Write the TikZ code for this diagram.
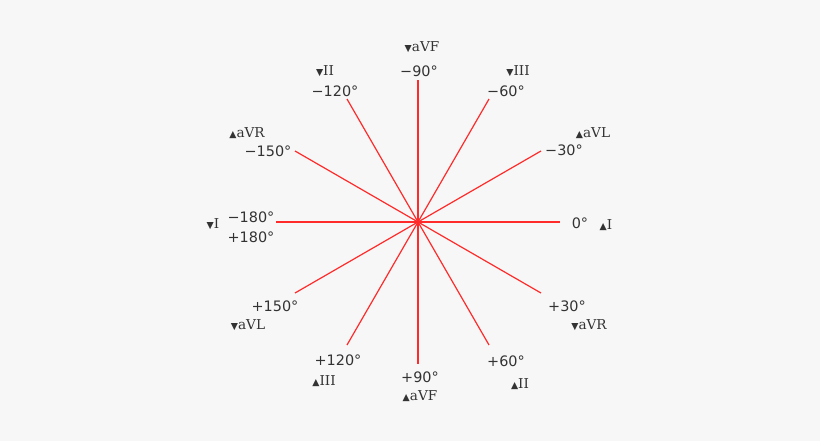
\documentclass[tikz,border=0pt]{standalone}
\usepackage{fontspec}
\setmainfont{DejaVu Serif}
\setsansfont{DejaVu Sans}
\usetikzlibrary{calc}
\definecolor{bgray}{HTML}{F7F7F7}
\definecolor{spokered}{HTML}{FF2A2A}
\definecolor{labelgray}{HTML}{333333}
\newcommand{\tup}{{\sffamily\fontsize{7}{8}\selectfont ▲}}
\newcommand{\tdown}{{\sffamily\fontsize{7}{8}\selectfont ▼}}

\begin{document}
\begin{tikzpicture}[x=0.75pt,y=-0.75pt,
	spoke/.style={draw=spokered, line width=0.9pt},
	deg/.style={inner sep=0pt, text=labelgray, font=\sffamily\fontsize{10.8}{12}\selectfont},
	lead/.style={inner sep=0pt, text=labelgray, font=\fontsize{10.2}{12}\selectfont}]
		%%%%% BACKGROUND %%%%%
		\useasboundingbox[fill=bgray] (0,0) rectangle (820,441);
		
		%%%%% SPOKES %%%%%
		\coordinate (O) at (418,222);
		\foreach \a in {0,30,...,330}
			\coordinate (s\a) at ($(O)+(\a:142)$);
		\foreach \a in {0,30,...,330}
			\draw[spoke] (O) -- (s\a);
		
		%%%%% DEGREE LABELS %%%%%
		\node[deg] (d270) at (419,71) {−90°};
		\node[deg] (d240) at (335,91) {−120°};
		\node[deg] (d300) at (506,91) {−60°};
		\node[deg] (d210) at (268,151) {−150°};
		\node[deg] (d330) at (564,150) {−30°};
		\node[deg] (d180a) at (251,217) {−180°};
		\node[deg] (d180b) at (251,237) {+180°};
		\node[deg] (d0) at (580,223) {0°};
		\node[deg] (d150) at (275,306) {+150°};
		\node[deg] (d30) at (567,306) {+30°};
		\node[deg] (d120) at (338,360) {+120°};
		\node[deg] (d60) at (506,361) {+60°};
		\node[deg] (d90) at (420,377) {+90°};
		
		%%%%% LEAD LABELS %%%%%
		\node[lead] (aVFneg) at (422,47) {\tdown aVF};
		\node[lead] (IIneg) at (325,71) {\tdown II};
		\node[lead] (IIIneg) at (518,71) {\tdown III};
		\node[lead] (aVRpos) at (247,133) {\tup aVR};
		\node[lead] (aVLpos) at (593,133) {\tup aVL};
		\node[lead] (Ineg) at (213,224) {\tdown I};
		\node[lead] (Ipos) at (606,225) {\tup I};
		\node[lead] (aVLneg) at (248,325) {\tdown aVL};
		\node[lead] (aVRneg) at (589,325) {\tdown aVR};
		\node[lead] (IIIpos) at (324,381) {\tup III};
		\node[lead] (IIpos) at (520,384) {\tup II};
		\node[lead] (aVFpos) at (420,396) {\tup aVF};
	\end{tikzpicture}
\end{document}
